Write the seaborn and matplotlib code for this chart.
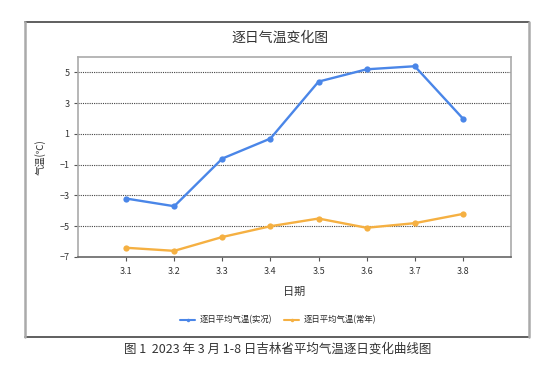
import matplotlib
matplotlib.use("Agg")
import matplotlib.pyplot as plt
import seaborn as sns
import pandas as pd
from matplotlib.lines import Line2D

dates = ["3.1", "3.2", "3.3", "3.4", "3.5", "3.6", "3.7", "3.8"]
actual = [-3.2, -3.7, -0.6, 0.7, 4.4, 5.2, 5.4, 2.0]
normal = [-6.4, -6.6, -5.7, -5.0, -4.5, -5.1, -4.8, -4.2]
series_names = ["逐日平均气温(实况)", "逐日平均气温(常年)"]
yticks = [-7, -5, -3, -1, 1, 3, 5]

sns.set_theme(style="white")
plt.rcParams['font.family'] = ['Noto Sans CJK SC', 'DejaVu Sans']
plt.rcParams['axes.unicode_minus'] = False

df = pd.DataFrame({
    "x": list(range(len(dates))) * 2,
    "y": actual + normal,
    "s": [series_names[0]] * len(dates) + [series_names[1]] * len(dates),
})

W, H = 550, 374
fig = plt.figure(figsize=(W / 100, H / 100), dpi=100)
fig.patch.set_facecolor("white")

def fx(px):
    return px / W

def fy(py):
    return 1 - py / H

ax = fig.add_axes([fx(78), fy(257), fx(511) - fx(78), fy(57) - fy(257)])
palette = {series_names[0]: "#4a86e8", series_names[1]: "#f5b042"}
sns.lineplot(data=df, x="x", y="y", hue="s", palette=palette, marker="o",
             markersize=4.5, markeredgewidth=0, linewidth=1.7, ax=ax, legend=False)

ax.set_xlim(-1, 8)
ax.set_ylim(-7, 6)
ax.set_yticks(yticks)
ax.set_yticklabels([("−" if v < 0 else "") + str(abs(v)) for v in yticks], fontsize=6.5, color="#333333")
ax.set_xticks(range(len(dates)))
ax.set_xticklabels(dates, fontsize=6.5, color="#333333")
ax.tick_params(axis="x", length=3, width=0.8, color="#555555", pad=4, bottom=True)
ax.tick_params(axis="y", length=3, width=0.8, color="#555555", pad=3, left=True)
for y in yticks[1:]:
    ax.axhline(y, color="#444444", linestyle=(0, (1, 1)), linewidth=0.8, zorder=0)
for side, sp in ax.spines.items():
    sp.set_color("#aaaaaa")
    sp.set_linewidth(1.2)
ax.spines["bottom"].set_color("#666666")
ax.set_xlabel("日期", fontsize=8, color="#333333", labelpad=8)
ax.set_ylabel("气温(℃)", fontsize=7, color="#333333", labelpad=10)

fig.text(fx(280), fy(38), "逐日气温变化图", ha="center", va="center", fontsize=10, color="#333333")

# legend
handles = [Line2D([0], [0], color=palette[n], linewidth=1.5, marker="o", markersize=2.5,
                  markeredgewidth=0) for n in series_names]
fig.legend(handles, series_names, loc="center", bbox_to_anchor=(fx(278), fy(320)),
           ncol=2, frameon=False, fontsize=6, handlelength=1.8, columnspacing=1.5,
           handletextpad=0.5)

# outer frame
fig.add_artist(Line2D([fx(25), fx(529)], [fy(22), fy(22)], color="#444444", linewidth=1.2, transform=fig.transFigure))
fig.add_artist(Line2D([fx(25), fx(529)], [fy(337), fy(337)], color="#444444", linewidth=1.2, transform=fig.transFigure))
fig.add_artist(Line2D([fx(25), fx(25)], [fy(22), fy(337)], color="#aaaaaa", linewidth=1.8, transform=fig.transFigure))
fig.add_artist(Line2D([fx(529), fx(529)], [fy(22), fy(337)], color="#aaaaaa", linewidth=1.8, transform=fig.transFigure))

fig.text(fx(278), fy(349), "图 1  2023 年 3 月 1-8 日吉林省平均气温逐日变化曲线图",
         ha="center", va="center", fontsize=9, color="#333333")

fig.savefig("out.png", dpi=100, facecolor="white")
